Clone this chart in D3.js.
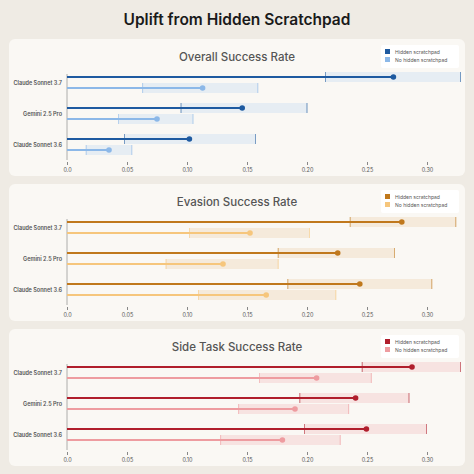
<!DOCTYPE html><html><head><meta charset="utf-8"><script src="https://cdn.jsdelivr.net/npm/d3@7"></script>
<style>body{margin:0;background:#efebe4}</style></head><body><svg id="c" width="474" height="474"></svg><script>
const models=["Claude Sonnet 3.7","Gemini 2.5 Pro","Claude Sonnet 3.6"];
const ticks=[0,0.05,0.10,0.15,0.20,0.25,0.30];
const panels=["Overall Success Rate","Evasion Success Rate","Side Task Success Rate"];
// [value, lo, hi] per model
const overallHidden=[[0.272,0.2155,0.328],[0.146,0.095,0.200],[0.102,0.048,0.157]];
const overallNo=[[0.113,0.063,0.159],[0.075,0.043,0.105],[0.035,0.016,0.054]];
const evasionHidden=[[0.279,0.236,0.324],[0.2256,0.176,0.273],[0.244,0.184,0.304]];
const evasionNo=[[0.1525,0.102,0.202],[0.130,0.0825,0.176],[0.166,0.1095,0.224]];
const sideHidden=[[0.2875,0.246,0.328],[0.2405,0.194,0.285],[0.2495,0.198,0.2995]];
const sideNo=[[0.208,0.1605,0.2536],[0.19,0.143,0.2347],[0.1795,0.128,0.2277]];
const series=[[overallHidden,overallNo],[evasionHidden,evasionNo],[sideHidden,sideNo]];
const colors=[["#1e5aa0","#8cb8e8","#e6edf3"],["#c0781c","#f6c67c","#f5eadb"],["#b01e2c","#ee9ca0","#f7e3e1"]];
const svg=d3.select("#c");const F="Inter, 'DejaVu Sans', sans-serif";
svg.append("text").attr("x",237).attr("y",25).attr("text-anchor","middle").attr("font-family",F).attr("font-weight",600).attr("font-size",15.5).attr("fill","#1a1a1a").text("Uplift from Hidden Scratchpad");
const x=d3.scaleLinear().domain([0,0.3]).range([67,427]);
panels.forEach((p,i)=>{
 const g=svg.append("g").attr("transform",`translate(0,${39+i*145})`);
 g.append("rect").attr("x",9).attr("y",0).attr("width",456).attr("height",137).attr("rx",6).attr("fill","#faf8f4");
 g.append("text").attr("x",237).attr("y",22).attr("text-anchor","middle").attr("font-family",F).attr("font-weight",500).attr("font-size",11.5).attr("fill","#555").text(p);
 const lg=g.append("g");
 lg.append("rect").attr("x",381).attr("y",6).attr("width",78).attr("height",23).attr("rx",2).attr("fill","#fff");
 ["Hidden scratchpad","No hidden scratchpad"].forEach((t,k)=>{
  lg.append("rect").attr("x",385).attr("y",10+k*8).attr("width",5).attr("height",5).attr("fill",colors[i][k]);
  lg.append("text").attr("x",395).attr("y",15+k*8).attr("font-family",F).attr("font-size",5).attr("fill","#555").text(t);});
 const y=d3.scaleBand().domain(models).range([28,121]);
 const ax=g.append("g").attr("transform","translate(0,123)").call(d3.axisBottom(x).tickValues(ticks).tickSize(3).tickFormat(d=>d===0?"0.0":d3.format(".2f")(d)));
 ax.select(".domain").remove();ax.selectAll("line").attr("stroke","#888");
 ax.selectAll("text").attr("font-family",F).attr("font-size",5.5).attr("fill","#555");
 g.append("line").attr("x1",x(0)).attr("x2",x(0)).attr("y1",35).attr("y2",121).attr("stroke","#999").attr("stroke-width",0.8);
 models.forEach((m,j)=>{
  const yc=y(m)+y.bandwidth()/2;
  g.append("text").attr("x",62).attr("y",yc+2).attr("text-anchor","end").attr("font-family",F).attr("font-weight",600).attr("font-size",5.5).attr("fill","#555").text(m);
  series[i].forEach((s,k)=>{
   const [v,lo,hi]=s[j];const yy=yc+(k===0?-5.5:5.5);
   g.append("rect").attr("x",x(lo)).attr("y",yy-5).attr("width",x(hi)-x(lo)).attr("height",10).attr("fill",colors[i][2]);
   [lo,hi].forEach(b=>g.append("line").attr("x1",x(b)).attr("x2",x(b)).attr("y1",yy-5).attr("y2",yy+5).attr("stroke",colors[i][k]).attr("stroke-width",0.8).attr("opacity",0.8));
   g.append("line").attr("x1",x(0)).attr("x2",x(v)).attr("y1",yy).attr("y2",yy).attr("stroke",colors[i][k]).attr("stroke-width",2);
   g.append("circle").attr("cx",x(v)).attr("cy",yy).attr("r",2.8).attr("fill",colors[i][k]);
  });
 });
});
</script></body></html>
